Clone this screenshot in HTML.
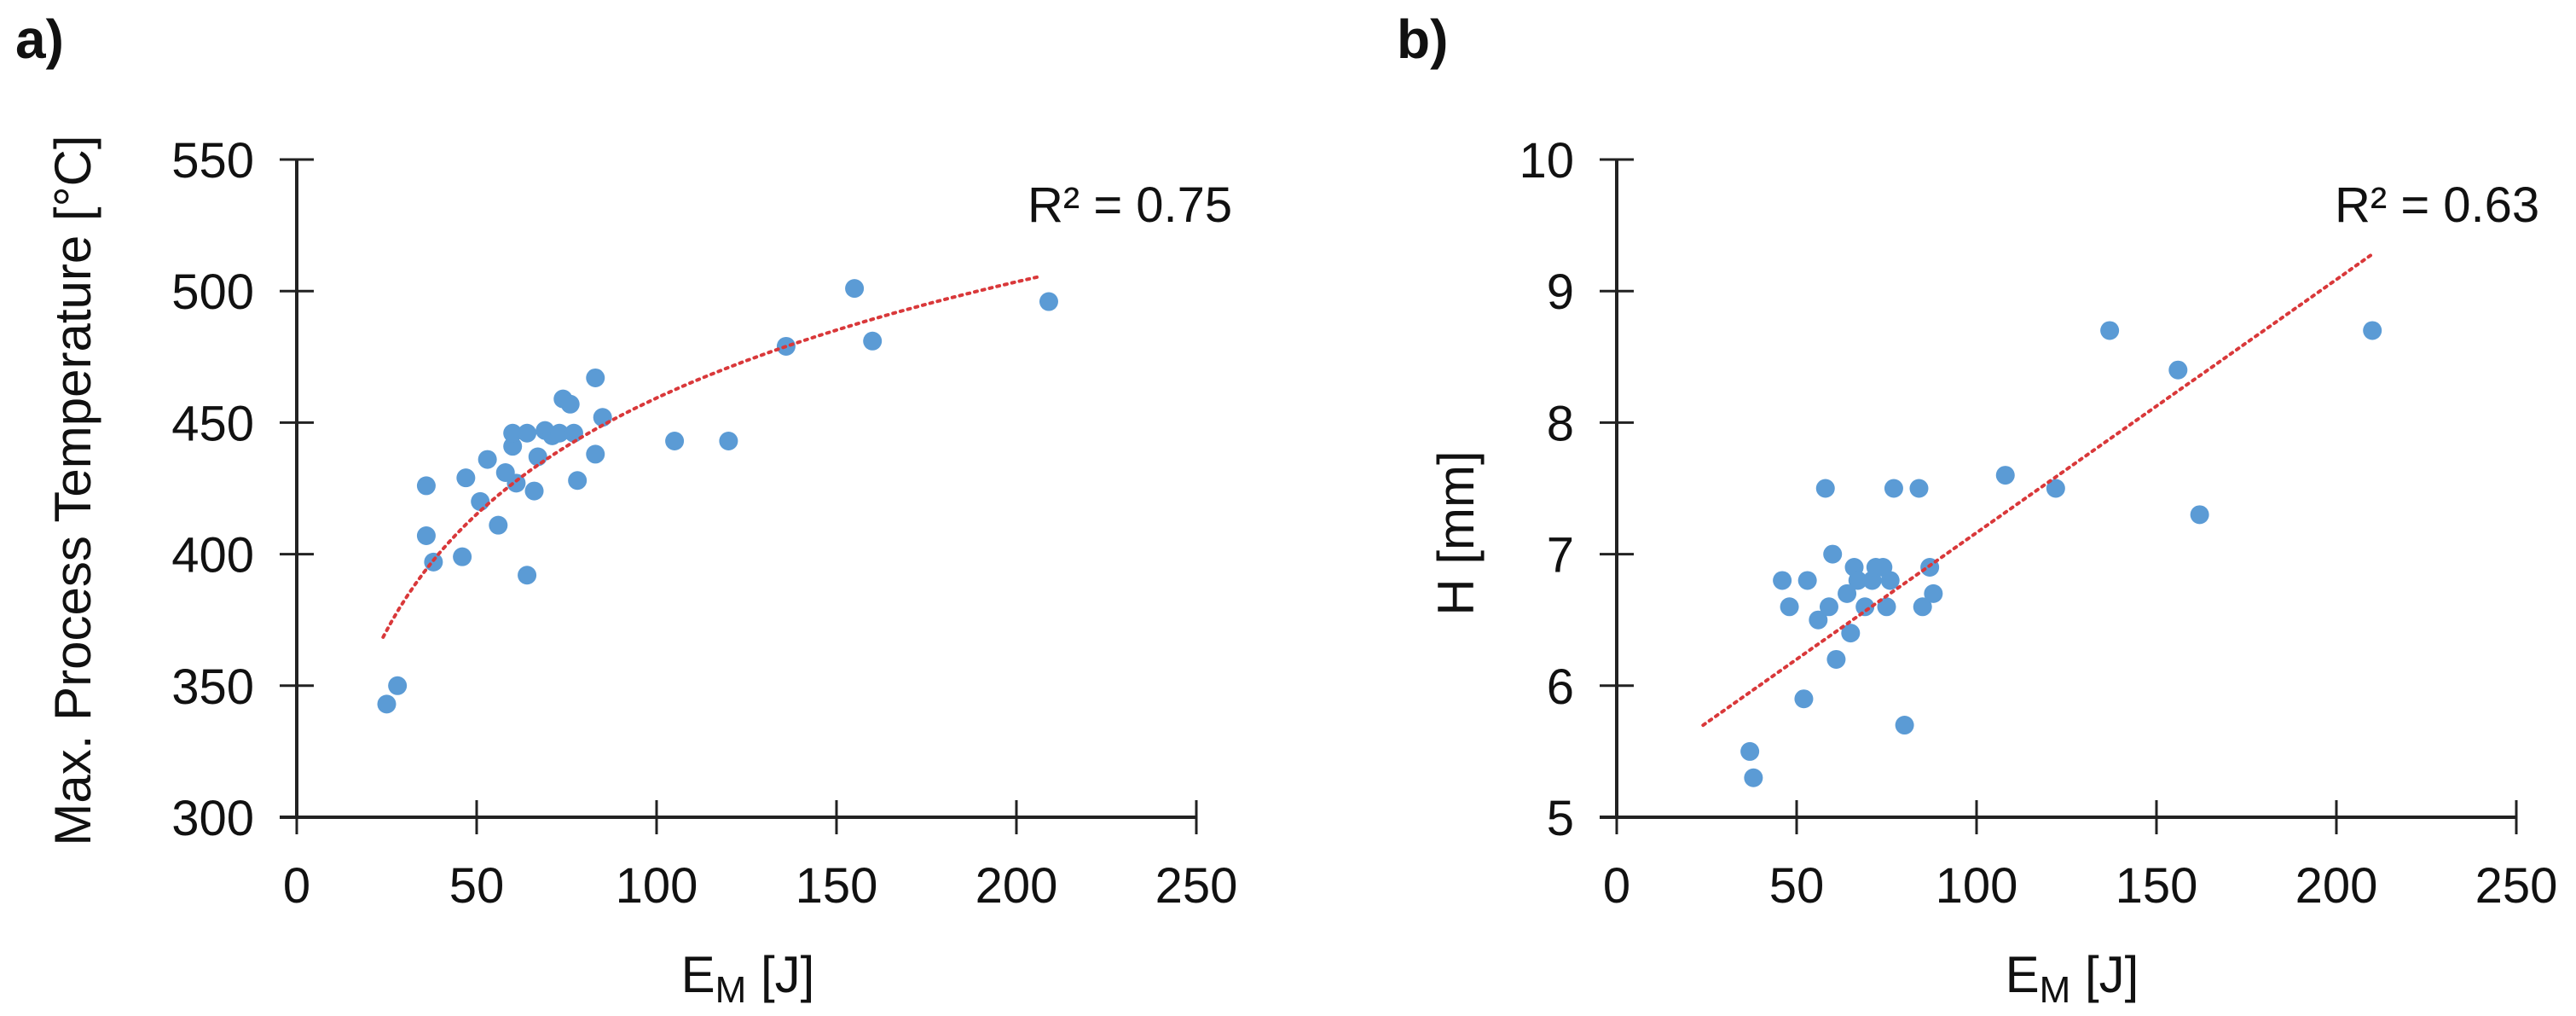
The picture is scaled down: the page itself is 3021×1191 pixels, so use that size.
<!DOCTYPE html>
<html><head><meta charset="utf-8">
<style>
html,body{margin:0;padding:0;background:#fff;}
svg{display:block;font-family:"Liberation Sans",Arial,sans-serif;}
</style></head>
<body>
<svg id="fig" width="3021" height="1191" viewBox="0 0 3021 1191" xmlns="http://www.w3.org/2000/svg">
  <rect width="3021" height="1191" fill="#fff"/>
  <text x="18" y="68" font-size="64" font-weight="bold" fill="#111">a)</text>
  <text x="1638" y="68" font-size="64" font-weight="bold" fill="#111">b)</text>
  <g id="chartA"></g>
  <g id="chartB"></g>
</svg>
<script>
// ---- Chart A data ----
const aX = [25,28,36,36,38,46,47,51,53,56,58,60,60,61,64,64,66,67,69,71,73,74,76,77,78,83,83,85,105,120,136,155,160,209];
const aY = [343,350,426,407,397,399,429,420,436,411,431,441,446,427,446,392,424,437,447,445,446,459,457,446,428,467,438,452,443,443,479,501,481,496];
const aYTicks = [300,350,400,450,500,550];
const aXTicks = [0,50,100,150,200,250];
const aTrendLog = [63.7,166]; // y = a*ln(x)+b
const aTrendRange = [24,206];
const aR2 = "R² = 0.75";
// ---- Chart B data ----
const bX = [37,38,46,48,53,52,56,58,59,60,61,64,65,66,67,69,71,72,74,75,76,77,80,84,85,87,88,108,122,137,156,162,210];
const bY = [5.5,5.3,6.8,6.6,6.8,5.9,6.5,7.5,6.6,7.0,6.2,6.7,6.4,6.9,6.8,6.6,6.8,6.9,6.9,6.6,6.8,7.5,5.7,7.5,6.6,6.9,6.7,7.6,7.5,8.7,8.4,7.3,8.7];
const bYTicks = [5,6,7,8,9,10];
const bXTicks = [0,50,100,150,200,250];
const bTrendLin = [0.01925,5.238]; // y = m*x+c
const bTrendRange = [24,210];
const bR2 = "R² = 0.63";

const NS = "http://www.w3.org/2000/svg";
function mk(parent, tag, attrs, text){
  const e = document.createElementNS(NS, tag);
  for (const k in attrs) e.setAttribute(k, attrs[k]);
  if (text !== undefined) e.textContent = text;
  parent.appendChild(e);
  return e;
}

function drawChart(g, cfg){
  const sx = v => cfg.x0 + (v - cfg.xmin) / (cfg.xmax - cfg.xmin) * (cfg.x1 - cfg.x0);
  const sy = v => cfg.yb + (v - cfg.ymin) / (cfg.ymax - cfg.ymin) * (cfg.yt - cfg.yb);
  const ya = mk(g, "line", {x1:cfg.x0, y1:cfg.yt, x2:cfg.x0, y2:cfg.yb, stroke:"#222", "stroke-width":4});
  
  
  const xa = mk(g, "line", {x1:cfg.x0-20, y1:cfg.yb, x2:cfg.x1, y2:cfg.yb, stroke:"#222", "stroke-width":4});
  
  
  cfg.yTicks.forEach(t => {
    const y = sy(t);
    const tk = mk(g, "line", {x1:cfg.x0-20, y1:y, x2:cfg.x0+20, y2:y, stroke:"#222", "stroke-width":3});
    
    
    const lb = mk(g, "text", {x:cfg.x0-50, y:y+21, "text-anchor":"end", "font-size":58, fill:"#111"}, String(t));
    
    
  });
  cfg.xTicks.forEach(t => {
    const x = sx(t);
    const tk = mk(g, "line", {x1:x, y1:cfg.yb-20, x2:x, y2:cfg.yb+20, stroke:"#222", "stroke-width":3});
    
    
    const lb = mk(g, "text", {x:x, y:cfg.yb+100, "text-anchor":"middle", "font-size":58, fill:"#111"}, String(t));
    
    
  });
  cfg.xs.forEach((xv, i) => {
    const c = mk(g, "circle", {cx:sx(xv), cy:sy(cfg.ys[i]), r:11, fill:"#5b9bd5"});
    
    
  });
  let d = "";
  const n = 80;
  for (let i = 0; i <= n; i++){
    const xv = cfg.tr[0] + (cfg.tr[1]-cfg.tr[0]) * i / n;
    d += (i ? "L" : "M") + sx(xv).toFixed(1) + "," + sy(cfg.trend(xv)).toFixed(1);
  }
  const p = mk(g, "path", {d:d, fill:"none", stroke:"#d9383a", "stroke-width":4, "stroke-dasharray":"3 6", "stroke-linecap":"round"});
  
  
  const r = mk(g, "text", {x:cfg.r2x, y:260, "font-size":58, fill:"#111"}, cfg.r2);
  
  
  const xt = mk(g, "text", {x:cfg.xtX, y:1163, "text-anchor":"middle", "font-size":60, fill:"#111"});
  
  
  mk(xt, "tspan", {}, "E");
  mk(xt, "tspan", {"font-size":44, dy:12}, "M");
  mk(xt, "tspan", {dy:-12}, " [J]");
  const yt = mk(g, "text", {x:0, y:0, "text-anchor":"middle", "font-size":60, fill:"#111",
    transform:"translate(" + cfg.ytX + "," + cfg.ytY + ") rotate(-90)"}, cfg.yTitle);
  
  
}

drawChart(document.getElementById("chartA"), {
  x0:348, x1:1403, xmin:0, xmax:250, yt:187, yb:958, ymin:300, ymax:550,
  xs:aX, ys:aY, yTicks:aYTicks, xTicks:aXTicks,
  trend: x => aTrendLog[0]*Math.log(x)+aTrendLog[1], tr:aTrendRange,
  r2:aR2, r2x:1205, xtX:877, ytX:106, ytY:575, yTitle:"Max. Process Temperature [°C]"
});
drawChart(document.getElementById("chartB"), {
  x0:1896, x1:2951, xmin:0, xmax:250, yt:187, yb:958, ymin:5, ymax:10,
  xs:bX, ys:bY, yTicks:bYTicks, xTicks:bXTicks,
  trend: x => bTrendLin[0]*x+bTrendLin[1], tr:bTrendRange,
  r2:bR2, r2x:2738, xtX:2430, ytX:1728, ytY:625, yTitle:"H [mm]"
});
</script>
</body></html>
